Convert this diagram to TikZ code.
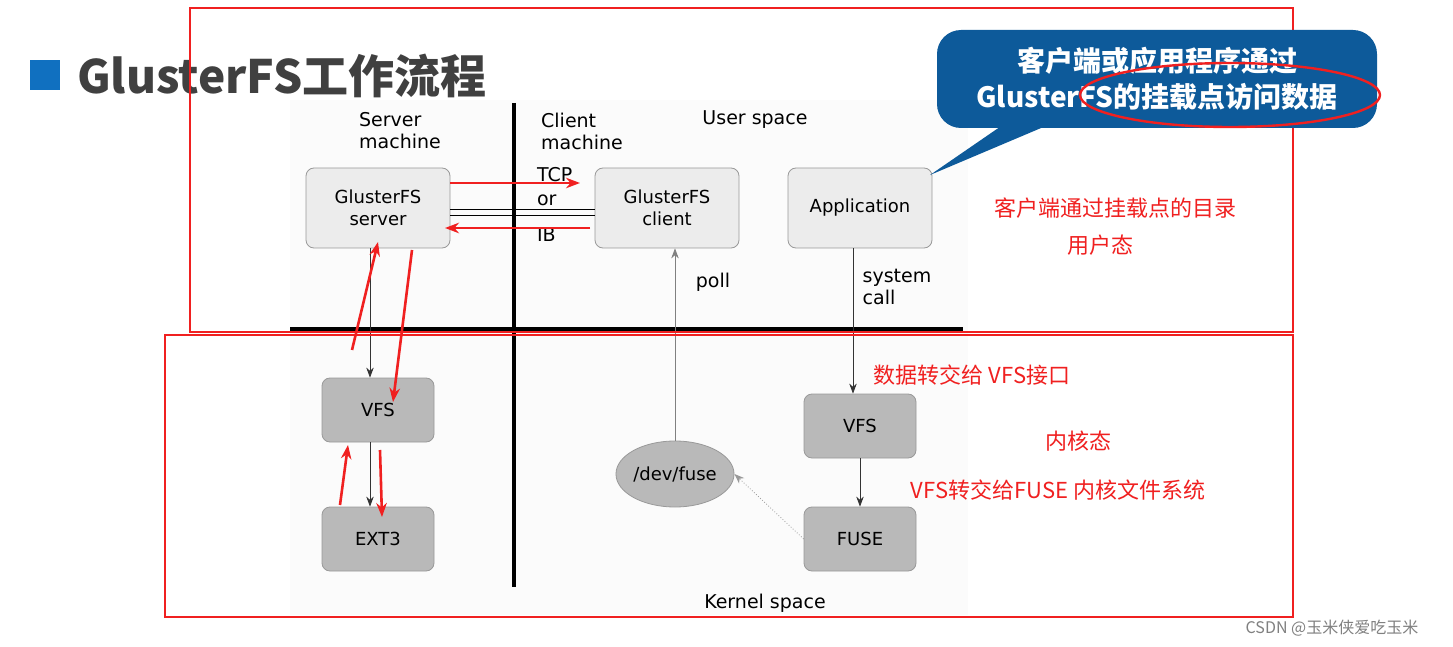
\documentclass[tikz,border=0pt]{standalone}
\usepackage{fontspec}
\setmainfont{DejaVu Sans}
\newfontfamily\cjk{Noto Sans CJK SC}
\usetikzlibrary{arrows.meta,shapes.geometric}
\definecolor{rd}{HTML}{F02020}
\definecolor{bl}{HTML}{1070C0}
\begin{document}
\begin{tikzpicture}[x=0.5pt,y=-0.5pt,
 lbox/.style={draw=gray!80,rounded corners=4pt,fill=gray!15,minimum width=72pt,minimum height=40pt,align=center,font=\fontsize{9}{11}\selectfont},
 dbox/.style={draw=gray!80,rounded corners=4pt,fill=gray!55,minimum width=56pt,minimum height=32pt,font=\fontsize{9}{11}\selectfont},
 lbl/.style={font=\fontsize{9.5}{11}\selectfont,align=left},
 rtxt/.style={text=rd,font=\cjk\fontsize{11}{12}\selectfont},
 ra/.style={draw=rd,line width=1.3pt,-{Stealth[length=7pt]}},
 ba/.style={draw=black!80,-{Stealth[length=5pt]}}]
\useasboundingbox (0,0) rectangle (1453,647);
\fill[white] (0,0) rectangle (1453,647);
\fill[gray!3] (290,100) rectangle (968,615);
% title
\fill[bl] (30,60) rectangle (60,90);
\node[anchor=west,font=\cjk\bfseries\fontsize{23}{26}\selectfont,text=black!75] (title) at (70,76) {GlusterFS工作流程};
% lines
\draw[line width=1.6pt] (290,329) -- (963,329);
\draw[line width=1.6pt] (514,103) -- (514,587);
% nodes
\node[lbox] (srv) at (378,208) {GlusterFS\\server};
\node[lbox] (cli) at (667,208) {GlusterFS\\client};
\node[lbox] (app) at (860,208) {Application};
\node[dbox] (vfs1) at (378,410) {VFS};
\node[dbox] (ext) at (378,539) {EXT3};
\node[dbox] (vfs2) at (860,426) {VFS};
\node[dbox] (fuse) at (860,539) {FUSE};
\node[ellipse,draw=gray!80,fill=gray!55,inner sep=0pt,minimum width=50pt,minimum height=33pt,font=\fontsize{9}{11}\selectfont] (dev) at (675,474) {/dev/fuse};
% labels
\node[lbl] (l1) at (400,131) {Server\\machine};
\node[lbl] (l2) at (582,131) {Client\\machine};
\node[lbl] (l3) at (755,120) {User space};
\node[lbl,anchor=west] (l4) at (530,175) {TCP};
\node[lbl,anchor=west] (l5) at (530,200) {or};
\node[lbl,anchor=west] (l6) at (530,235) {IB};
\node[lbl] (l7) at (713,282) {poll};
\node[lbl] (l8) at (897,287) {system\\call};
\node[lbl] (l9) at (765,603) {Kernel space};
% black connectors
\draw (srv.east|-0,209) -- (cli.west|-0,209);
\draw (srv.east|-0,215) -- (cli.west|-0,215);
\draw[ba] (srv.south-|370,0) -- (vfs1.north-|370,0);
\draw[ba] (vfs1.south-|370,0) -- (ext.north-|370,0);
\draw[-{Stealth[length=5pt]},gray] (dev.north) -- (cli.south-|dev.north);
\draw[ba] (app.south-|853,0) -- (vfs2.north-|853,0);
\draw[ba] (vfs2) -- (fuse);
\draw[-{Stealth[length=5pt]},gray!80,densely dotted] (fuse.west) -- (dev.east);
% red arrows
\coordinate (r1) at (352,350);
\draw[ra] (srv.east|-0,183) -- (580,183);
\draw[ra] (590,228) -- (445,228);
\draw[ra] (r1) -- (378,242);
\draw[ra] (412,250) -- (393,402);
\draw[ra] (340,505) -- (348,445);
\draw[ra] (380,450) -- (382,517);
% red rects
\draw[rd,line width=1.3pt] (190,8) rectangle (1293,332);
\draw[rd,line width=1.3pt] (165,335) rectangle (1293,617);
% callout
\fill[bl!80!black,rounded corners=12pt] (937,30) rectangle (1377,128);
\fill[bl!80!black] (1010,120) -- (930,175) -- (1060,120) -- cycle;
\node[text=white,font=\cjk\bfseries\fontsize{14}{18}\selectfont,align=center] (co) at (1157,79) {客户端或应用程序通过\\GlusterFS的挂载点访问数据};
\draw[rd,line width=1.2pt] (1230,95) ellipse (150 and 32);
% red texts
\node[rtxt] (t1) at (1115,208) {客户端通过挂载点的目录};
\node[rtxt] (t2) at (1100,245) {用户态};
\node[rtxt] (t3) at (972,375) {数据转交给 VFS接口};
\node[rtxt] (t4) at (1078,441) {内核态};
\node[rtxt] (t5) at (1058,490) {VFS转交给FUSE 内核文件系统};
\node[text=gray,font=\cjk\fontsize{8}{10}\selectfont] (wm) at (1332,628) {CSDN @玉米侠爱吃玉米};
\end{tikzpicture}
\end{document}
